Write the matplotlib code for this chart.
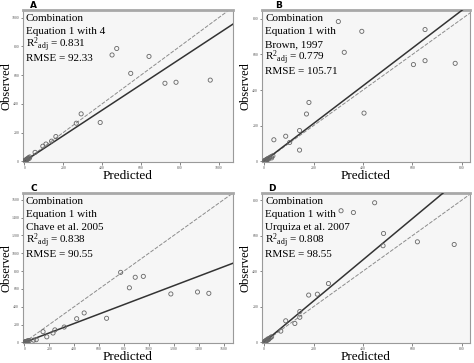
import matplotlib
matplotlib.use('Agg')
import matplotlib.pyplot as plt
import numpy as np

plt.rcParams['font.family'] = 'Liberation Serif'
plt.rcParams['mathtext.fontset'] = 'custom'
plt.rcParams['mathtext.rm'] = 'Liberation Serif'
plt.rcParams['mathtext.it'] = 'Liberation Serif:italic'

# observed values (shared by all four panels)
observed = [785, 740, 730, 612, 565, 550, 543, 330, 270, 265, 172, 140, 120, 105, 62,
            30, 25, 20, 18, 15, 12, 10, 8, 6, 5, 4, 3, 2]

pred_a = [475, 451, 641, 547, 956, 780, 723, 292, 390, 267, 162, 140, 111, 95, 55,
          28, 22, 25, 15, 18, 10, 12, 6, 8, 4, 5, 2, 3]
pred_b = [300, 651, 395, 324, 651, 773, 604, 181, 404, 171, 143, 87, 39, 103, 143,
          35, 28, 22, 30, 15, 18, 10, 12, 6, 8, 4, 3, 2]
pred_c = [773, 955, 890, 843, 1390, 1481, 1176, 480, 660, 420, 320, 245, 150, 230, 180,
          95, 75, 40, 30, 25, 20, 15, 12, 10, 8, 6, 4, 3]
pred_d = [447, 311, 361, 483, 620, 769, 481, 260, 215, 180, 144, 144, 87, 124, 67,
          30, 25, 20, 15, 18, 10, 12, 6, 8, 4, 5, 2, 3]

fit_slopes = [0.89, 1.06, 0.53, 1.16]
labels = ['A', 'B', 'C', 'D']
r2 = 'R$^{2}$$_{\\mathrm{adj}}$'
notes = [
    ['Combination', 'Equation 1 with 4', r2 + ' = 0.831', 'RMSE = 92.33'],
    ['Combination', 'Equation 1 with', 'Brown, 1997', r2 + ' = 0.779', 'RMSE = 105.71'],
    ['Combination', 'Equation 1 with', 'Chave et al. 2005', r2 + ' = 0.838', 'RMSE = 90.55'],
    ['Combination', 'Equation 1 with', 'Urquiza et al. 2007', r2 + ' = 0.808', 'RMSE = 98.55'],
]
xlims = [(-7, 1073), (-9, 833), (-11, 1675), (-9, 833)]
ylims = [(-5, 1053), (-5, 850), (-7, 1675), (-5, 840)]
xticks = [range(0, 1001, 200), range(0, 801, 200), range(0, 1601, 200), range(0, 801, 200)]
yticks = [range(0, 1001, 200), range(0, 801, 200), range(0, 1601, 200), range(0, 801, 200)]

# axes rectangles in pixels: left, top, right, bottom
W, H = 474, 363
boxes = [(23, 10, 233, 162), (262, 10, 470, 162), (23, 193, 233, 343), (262, 193, 470, 343)]
label_pos = [(30, 1), (275, 1), (30, 184), (268, 184)]
PT = 72 / 100  # points per pixel

fig = plt.figure(figsize=(W / 100, H / 100), dpi=100)

for i, pred in enumerate([pred_a, pred_b, pred_c, pred_d]):
    l, t, r, b = boxes[i]
    ax = fig.add_axes([l / W, 1 - b / H, (r - l) / W, (b - t) / H])
    ax.set_facecolor('#f6f6f6')
    for s in ax.spines.values():
        s.set_color('#9a9a9a')
        s.set_linewidth(0.8)
    ax.spines['top'].set_linewidth(2)
    ax.spines['top'].set_color('#a8a8a8')

    x0, x1 = xlims[i]
    ax.plot([0, x1 * 1.1], [0, x1 * 1.1], color='#8c8c8c', lw=0.7, ls=(0, (4, 1.5)), zorder=2)
    ax.plot([0, x1 * 1.1], [0, fit_slopes[i] * x1 * 1.1], color='#333333', lw=1.1, zorder=3)
    ax.scatter(pred, observed, s=9, facecolors='none', edgecolors='#666666', linewidths=0.6, zorder=4)

    ax.set_xlim(xlims[i])
    ax.set_ylim(ylims[i])
    ax.set_xticks(list(xticks[i]))
    ax.set_yticks(list(yticks[i]))
    ax.tick_params(labelsize=2.8, length=1.8, width=0.5, pad=1, colors='#555555')
    ax.set_xlabel('Predicted', fontsize=9.5, labelpad=0)
    ax.set_ylabel('Observed', fontsize=9, labelpad=0)
    ax.yaxis.set_label_coords(-0.05, 0.5)
    for k, line in enumerate(notes[i]):
        ax.annotate(line, xy=(0, 1), xycoords='axes fraction',
                    xytext=(3 * PT, -(11 + 13.2 * k) * PT), textcoords='offset points',
                    va='baseline', ha='left', fontsize=8)
    fig.text(label_pos[i][0] / W, 1 - label_pos[i][1] / H, labels[i], fontsize=6.5,
             fontweight='bold', family='DejaVu Sans', va='top', ha='left')

fig.savefig('out.png', dpi=100)
